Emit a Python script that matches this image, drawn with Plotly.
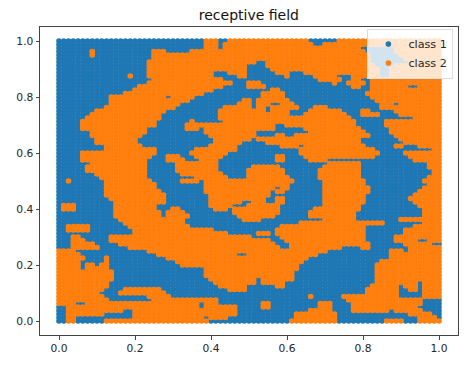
import plotly.graph_objects as go

grid_size = 81
# class 2 runs per grid row, top row first: (first column, last column)
class2_runs = [
 [(31,33),(36,52),(59,80)],
 [(31,33),(35,53),(56,80)],
 [(31,33),(35,63),(71,80)],
 [(7,7),(20,22),(28,64),(71,80)],
 [(7,7),(20,22),(23,65),(72,80)],
 [(20,65),(73,80)],
 [(19,41),(44,65),(74,80)],
 [(19,39),(44,66),(71,80)],
 [(19,39),(45,67),(70,80)],
 [(19,32),(36,39),(46,48),(52,67),(70,80)],
 [(15,15),(19,32),(38,39),(48,48),(54,58),(62,67),(70,80)],
 [(20,34),(55,59),(62,63),(66,80)],
 [(19,36),(40,42),(58,58),(61,64),(66,80)],
 [(17,34),(40,43),(62,63),(66,73),(76,80)],
 [(16,32),(45,46),(66,80)],
 [(14,30),(43,47),(65,80)],
 [(11,22),(24,28),(43,47),(66,80)],
 [(11,27),(39,40),(42,48),(67,80)],
 [(11,25),(38,40),(42,44),(47,49),(68,70),(72,80)],
 [(10,24),(35,40),(42,43),(45,50),(54,56),(68,80)],
 [(8,22),(34,40),(41,43),(45,48),(53,59),(64,65),(71,80)],
 [(7,21),(34,48),(52,60),(64,65),(66,67),(72,80)],
 [(6,21),(34,61),(75,80)],
 [(5,20),(28,28),(35,62),(69,80)],
 [(5,16),(17,20),(27,29),(30,45),(48,62),(69,80)],
 [(5,18),(27,29),(31,45),(52,63),(70,80)],
 [(7,18),(31,41),(53,64),(70,80)],
 [(7,17),(32,41),(46,47),(50,65),(71,80)],
 [(8,16),(33,40),(42,48),(49,63),(72,80)],
 [(8,16),(33,38),(44,49),(50,63),(73,80)],
 [(10,17),(32,37),(47,50),(52,64),(71,72),(76,80)],
 [(10,20),(29,37),(51,66),(79,80)],
 [(5,20),(28,35),(51,67),(73,80)],
 [(5,19),(23,25),(29,34),(46,47),(52,66),(74,80)],
 [(5,18),(23,26),(30,33),(46,47),(53,56),(75,80)],
 [(7,18),(25,29),(30,33),(57,63),(78,80)],
 [(6,18),(25,33),(41,46),(56,63),(78,80)],
 [(6,18),(25,33),(40,47),(55,63),(79,80)],
 [(8,18),(26,34),(40,47),(55,63),(79,80)],
 [(9,18),(29,35),(40,48),(55,63),(78,80)],
 [(2,2),(10,19),(26,29),(31,49),(56,64),(77,80)],
 [(10,20),(31,48),(56,64),(78,80)],
 [(10,20),(31,45),(47,48),(56,65),(77,80)],
 [(10,21),(31,44),(46,47),(56,65),(76,80)],
 [(10,22),(32,44),(56,64),(75,80)],
 [(11,22),(32,43),(46,47),(56,64),(74,80)],
 [(12,22),(32,38),(41,43),(46,47),(56,64),(75,80)],
 [(1,3),(12,20),(32,36),(40,46),(56,63),(76,80)],
 [(1,3),(12,20),(24,25),(33,35),(37,46),(54,63),(77,80)],
 [(12,21),(23,26),(37,46),(53,62),(77,80)],
 [(12,21),(23,27),(38,45),(53,62),(77,80)],
 [(13,21),(22,26),(39,42),(56,62),(72,76),(77,80)],
 [(14,26),(51,65),(66,68),(77,80)],
 [(2,6),(15,27),(47,64),(75,80)],
 [(2,6),(16,32),(46,64),(73,80)],
 [(16,35),(42,44),(46,64),(73,80)],
 [(3,4),(11,40),(47,64),(71,80)],
 [(3,5),(11,44),(48,64),(71,75),(78,80)],
 [(3,7),(13,45),(49,65),(73,78)],
 [(3,8),(15,46),(49,59),(64,65),(74,80)],
 [(0,3),(19,47),(48,56),(70,72),(74,80)],
 [(0,4),(21,37),(40,54),(70,72),(73,80)],
 [(0,5),(10,10),(23,52),(70,80)],
 [(0,4),(10,10),(25,51),(68,80)],
 [(0,4),(6,7),(9,10),(26,50),(67,80)],
 [(0,4),(6,7),(8,10),(31,50),(67,80)],
 [(0,5),(6,7),(8,11),(31,49),(67,80)],
 [(0,7),(8,11),(31,41),(42,49),(67,80)],
 [(0,11),(32,41),(43,49),(67,80)],
 [(0,10),(33,41),(43,47),(67,75),(77,80)],
 [(0,4),(5,10),(34,39),(46,47),(66,71),(73,75),(77,80)],
 [(0,9),(14,21),(36,39),(65,71),(74,75),(77,80)],
 [(0,8),(13,22),(65,71),(77,80)],
 [(0,9),(19,23),(53,53),(60,71),(77,80)],
 [(0,10),(20,33),(61,76)],
 [(0,3),(6,29),(31,33),(43,44),(55,57),(62,76)],
 [(2,29),(31,37),(43,44),(55,57),(62,75)],
 [(2,13),(16,30),(31,37),(53,57),(62,69),(71,76)],
 [(2,9),(16,37),(50,58),(74,78)],
 [(2,3),(16,30),(32,35),(50,58),(76,79)],
 [(2,3),(10,31),(49,58),(69,72),(76,80)],
]
series_names = ["class 1", "class 2"]
series_colors = ["#1f77b4", "#ff7f0e"]
tick_values = [0.0, 0.2, 0.4, 0.6, 0.8, 1.0]

cells = {(c, r) for r, runs in enumerate(class2_runs) for a, b in runs for c in range(a, b + 1)}
all_cells = [(c, r) for r in range(grid_size) for c in range(grid_size)]
x_values = lambda pts: [c / (grid_size - 1) for c, r in pts]
y_values = lambda pts: [1 - r / (grid_size - 1) for c, r in pts]
class1 = [p for p in all_cells if p not in cells]
class2 = [p for p in all_cells if p in cells]

fig = go.Figure()
for name, color, pts in zip(series_names, series_colors, [class1, class2]):
    fig.add_trace(go.Scatter(x=x_values(pts), y=y_values(pts), mode="markers", name=name,
                             cliponaxis=False,
                             marker=dict(color=color, size=5.6, line=dict(width=0))))

axis = dict(showgrid=False, zeroline=False, showline=True, mirror=True, linecolor="#444444",
            linewidth=1, ticks="outside", ticklen=3.5, tickwidth=1, tickcolor="#444444",
            tickvals=tick_values, tickformat=".1f", automargin=False)
fig.update_xaxes(range=[-0.05, 1.05], **axis)
fig.update_yaxes(range=[-0.05, 1.05], **axis)
fig.update_layout(
    width=466, height=358, margin=dict(l=32, r=16, t=19, b=31),
    paper_bgcolor="white", plot_bgcolor="white",
    font=dict(family="DejaVu Sans", size=10.7, color="#262626"),
    title=dict(text="receptive field", x=0.517, xanchor="center", y=0.98, yanchor="middle",
               font=dict(size=14, color="#111111")),
    legend=dict(x=0.989, y=0.995, xanchor="right", yanchor="top", bgcolor="rgba(255,255,255,0.8)",
                bordercolor="#dddddd", borderwidth=1, font=dict(size=11.2)),
)
fig.write_html("out.html")
